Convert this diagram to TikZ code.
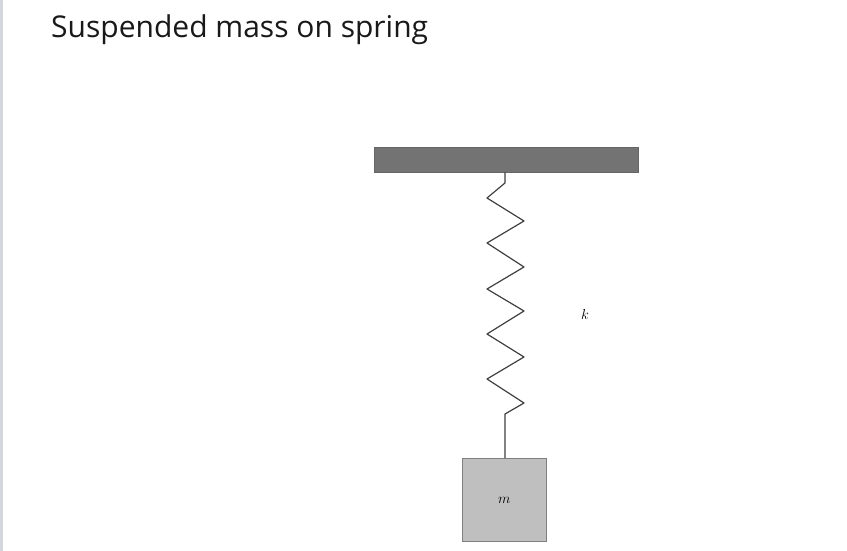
\documentclass[tikz,border=0pt]{standalone}
\usepackage{fontspec}
\setmainfont{Latin Modern Roman}
\newfontfamily\titlefont{Open Sans}
\begin{document}
\begin{tikzpicture}[x=1pt,y=-1pt,
  springline/.style={draw=black!75,line width=1.2pt,line join=round},
  lbl/.style={font=\Large}]
\useasboundingbox (0,0) rectangle (847,551);
\fill[white] (0,0) rectangle (847,551);
\fill[blue!10!gray!30] (0,0) rectangle (3,551);
\node[anchor=base west,inner sep=0pt,font=\titlefont\fontsize{30}{30}\selectfont,text=black!90] (title) at (51,38) {Suspended mass on spring};
\node[draw=black!60,fill=black!55,minimum width=264,minimum height=25,inner sep=0pt,anchor=north west] (bar) at (374,147) {};
\node[draw=black!50,fill=black!25,minimum width=84,minimum height=83,inner sep=0pt,anchor=north west,line width=0.8pt] (mass) at (462,458) {};
\node[lbl] (m) at (mass.center) {$m$};
\node[lbl] (k) at (585,314) {$k$};
\coordinate (s0) at (505,183);
\coordinate (s1) at (505,414);
\draw[springline] (bar.south -| s0) -- (s0) -- (487,198) -- (524,221) -- (487,243) -- (524,267) -- (487,289) -- (524,311) -- (487,334) -- (524,357) -- (487,379) -- (524,403) -- (s1) -- (mass.north -| s1);
\end{tikzpicture}
\end{document}
